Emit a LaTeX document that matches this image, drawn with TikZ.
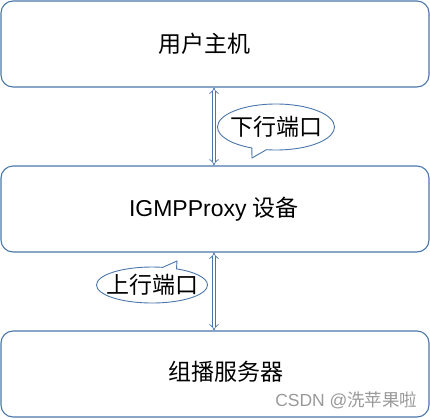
\documentclass[tikz,border=0pt]{standalone}
\usepackage{fontspec}
\setmainfont{Liberation Sans}
\newfontfamily\cjk{Noto Sans CJK SC}
\usepackage{tikz}
\usetikzlibrary{shapes.callouts, arrows.meta}
\definecolor{boxblue}{RGB}{74,118,170}
\tikzstyle{hostbox} = [rectangle, rounded corners=12pt, minimum width=428pt, minimum height=86pt, draw=boxblue, line width=1.1pt]
\tikzstyle{boxtext} = [font=\fontsize{23}{27}\selectfont]
\tikzstyle{port} = [ellipse callout, draw=boxblue, line width=0.9pt, font=\fontsize{23}{27}\selectfont\cjk, inner xsep=-10pt, inner ysep=-6pt]
\tikzstyle{link} = [draw=boxblue, line width=0.7pt, double=white, double distance=2.6pt, {Implies}-{Implies}]

\begin{document}
\begin{tikzpicture}[x=1pt, y=-1pt]
    \useasboundingbox (0,0) rectangle (430,418);
    \node (host) [hostbox] at (215,44) {};
    \node (proxy) [hostbox] at (215,209) {};
    \node (server) [hostbox] at (215,374) {};

    \node (hosttext) [boxtext] at (204,44) {\cjk 用户主机};
    \node (proxytext) [boxtext] at (214,209) {IGMPProxy {\cjk 设备}};
    \node (servertext) [boxtext] at (226,372) {\cjk 组播服务器};

    \draw [link] ([xshift=-1pt]host.south) -- ([xshift=-1pt]proxy.north);
    \draw [link] ([xshift=-1pt]proxy.south) -- ([xshift=-1pt]server.north);

    \node (down) [port, minimum width=117pt, minimum height=46pt, callout absolute pointer={(252,158)}] at (276,127) {下行端口};
    \node (up) [port, minimum width=111pt, minimum height=36pt, callout absolute pointer={(177,261)}] at (152,285) {上行端口};

    \node (mark) [anchor=east, text=black!40, font=\fontsize{17.5}{21}\selectfont] at (421,400) {CSDN @{\cjk 洗苹果啦}};
  \end{tikzpicture}
\end{document}
